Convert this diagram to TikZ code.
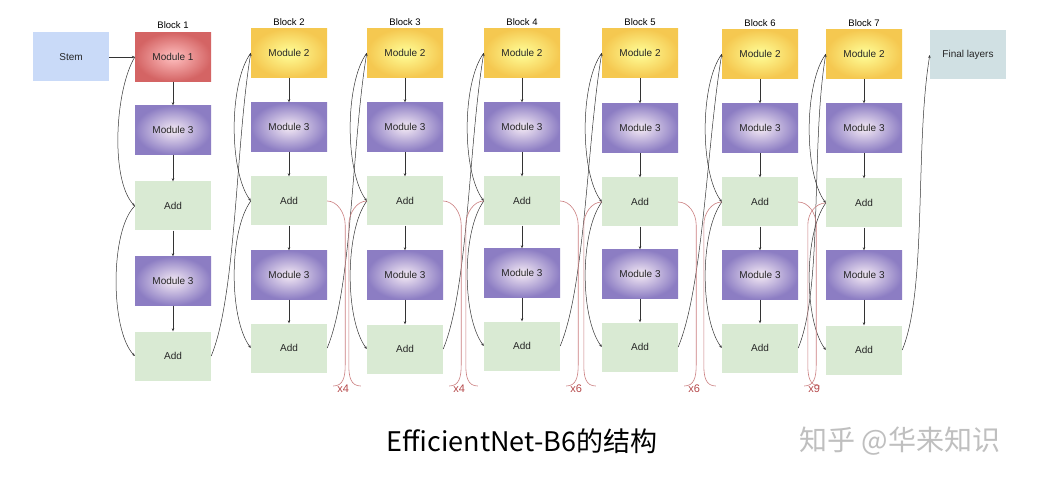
\documentclass[tikz,border=0pt]{standalone}
\usepackage{fontspec}
\setmainfont{Liberation Sans}
\newfontfamily\cjk{Noto Sans CJK SC}
\usetikzlibrary{arrows.meta}
\definecolor{stemc}{HTML}{C9DAF8}
\definecolor{addc}{HTML}{D9EAD3}
\definecolor{finc}{HTML}{D0E0E3}
\definecolor{rep}{HTML}{B5484A}
\tikzset{
 box/.style={minimum width=76pt,minimum height=49pt,inner sep=0pt,font=\fontsize{10}{12}\selectfont,text=black!85},
 mone/.style={box,inner color=red!25!white,outer color={rgb,255:red,212;green,100;blue,100}},
 mtwo/.style={box,inner color=yellow!40!white,outer color={rgb,255:red,245;green,200;blue,80}},
 mthree/.style={box,inner color=violet!8!white,outer color={rgb,255:red,140;green,125;blue,195}},
 addb/.style={box,fill=addc},
 flow/.style={-{Stealth[length=3pt,width=2.5pt]},black!80,line width=0.5pt},
 skip/.style={flow},
 brack/.style={rep!70,line width=0.6pt},
 blab/.style={font=\fontsize{9.5}{11}\selectfont}
}
\begin{document}
\begin{tikzpicture}[x=1pt,y=-1pt]
\useasboundingbox[fill=white] (0,0) rectangle (1038,486);
\node[box,fill=stemc,anchor=center] (stem) at (71,57) {Stem};
\node[box,fill=finc] (fin) at (968,55) {Final layers};
% block 1
\node[mone] (m1) at (173,57) {Module 1};
\node[mthree] (b1c) at (173,130) {Module 3};
\node[addb] (b1d) at (173,206) {Add};
\node[mthree] (b1e) at (173,281) {Module 3};
\node[addb] (b1f) at (173,356) {Add};
\node[blab] (l1) at (173,25) {Block 1};
\draw[flow] (stem) -- (m1);
\draw[flow] (m1) -- (b1c); \draw[flow] (b1c) -- (b1d); \draw[flow] (b1d) -- (b1e); \draw[flow] (b1e) -- (b1f);
\draw[skip] (m1.west) .. controls (115,90) and (110,180) .. (b1d.west);
\draw[skip] (b1d.west) .. controls (110,230) and (110,330) .. (b1f.west);
% blocks 2-7
\foreach \i/\x/\ya/\yb/\yc/\yd/\ye in {2/289/53/127/201/275/348,3/405/53/127/201/275/349,4/522/53/127/201/273/346,5/640/53/128/202/274/347,6/760/54/128/202/275/348,7/864/54/128/203/275/350}{
 \node[mtwo] (b\i a) at (\x,\ya) {Module 2};
 \node[mthree] (b\i b) at (\x,\yb) {Module 3};
 \node[addb] (b\i c) at (\x,\yc) {Add};
 \node[mthree] (b\i d) at (\x,\yd) {Module 3};
 \node[addb] (b\i e) at (\x,\ye) {Add};
 \node[blab] (l\i) at (\x,\ya-31) {Block \i};
 \draw[flow] (b\i a) -- (b\i b); \draw[flow] (b\i b) -- (b\i c);
 \draw[flow] (b\i c) -- (b\i d); \draw[flow] (b\i d) -- (b\i e);
 \draw[skip] (b\i a.west) .. controls +(-22,30) and +(-22,-30) .. (b\i c.west);
 \draw[skip] (b\i c.west) .. controls +(-22,30) and +(-22,-30) .. (b\i e.west);
}
% transitions
\draw[flow] (b1f.east) .. controls +(25,-60) and +(-15,90) .. (b2a.west);
\foreach \p/\n in {2/3,3/4,4/5,5/6,6/7}{
 \draw[flow] (b\p e.east) .. controls +(25,-60) and +(-15,90) .. (b\n a.west);
}
\draw[flow] (b7e.east) .. controls +(25,-60) and +(-15,90) .. (fin.west);
% repeat brackets
\foreach \i/\n/\t in {2/3/x4,3/4/x4,4/5/x6,5/6/x6,6/7/x9}{
 \draw[brack] (b\i c.east) .. controls +(10,0) and +(0,-12) .. ([xshift=18pt]b\i c.east |- 0,225) -- ([xshift=18pt]b\i c.east |- 0,365) .. controls +(0,12) and +(10,0) .. ([xshift=6pt]b\i c.east |- 0,386);
 \draw[brack] (b\n c.west) .. controls +(-10,0) and +(0,-12) .. ([xshift=-18pt]b\n c.west |- 0,225) -- ([xshift=-18pt]b\n c.west |- 0,365) .. controls +(0,12) and +(-10,0) .. ([xshift=-6pt]b\n c.west |- 0,386);
 \node[text=rep,font=\fontsize{11}{12}\selectfont] (r\i) at ([xshift=16pt]b\i c.east |- 0,389) {\t};
}
\node[font=\cjk\fontsize{27}{30}\selectfont] (cap) at (522,441) {EfficientNet-B6的结构};
\node[font=\cjk\fontsize{28}{30}\selectfont,text=black!25] (wm) at (900,441) {知乎 @华来知识};
\end{tikzpicture}
\end{document}
